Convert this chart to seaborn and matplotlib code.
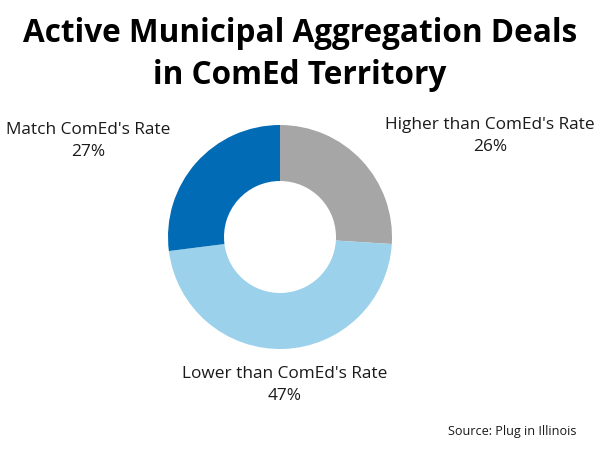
import matplotlib
matplotlib.use("Agg")
import matplotlib.pyplot as plt
import seaborn as sns

categories = ["Higher than ComEd's Rate", "Lower than ComEd's Rate", "Match ComEd's Rate"]
values = [26, 47, 27]
colors = ["#A6A6A6", "#9CD1EC", "#016BB5"]

sns.set_theme(style="white")
plt.rcParams['font.family'] = ['Open Sans', 'DejaVu Sans']

fig = plt.figure(figsize=(6, 4.5), dpi=100)
fig.patch.set_facecolor("white")

fig.text(0.5, 1 - 33 / 450, "Active Municipal Aggregation Deals", ha="center", va="center",
         fontsize=22.7, fontweight="bold", color="black")
fig.text(0.5, 1 - 75 / 450, "in ComEd Territory", ha="center", va="center",
         fontsize=22.7, fontweight="bold", color="black")

ax = fig.add_axes([168 / 600, (450 - 237 - 112) / 450, 224 / 600, 224 / 450])
ax.pie(values, colors=sns.color_palette(colors), startangle=90, counterclock=False,
       radius=1, wedgeprops=dict(width=0.5, edgecolor="none"))
ax.set_xlim(-1, 1)
ax.set_ylim(-1, 1)
ax.set_aspect("equal")
ax.axis("off")

label_pos = {
    "Higher than ComEd's Rate": (490, 136),
    "Lower than ComEd's Rate": (285, 385),
    "Match ComEd's Rate": (88, 141),
}
for cat, val in zip(categories, values):
    x, y = label_pos[cat]
    fig.text(x / 600, 1 - y / 450, f"{cat}\n{val}%", ha="center", va="center",
             fontsize=12.4, color="#1a1a1a", linespacing=1.55)

fig.text(576 / 600, 1 - 432 / 450, "Source: Plug in Illinois", ha="right", va="center",
         fontsize=9.1, color="#1a1a1a")

fig.savefig("out.png", dpi=100, facecolor="white")
